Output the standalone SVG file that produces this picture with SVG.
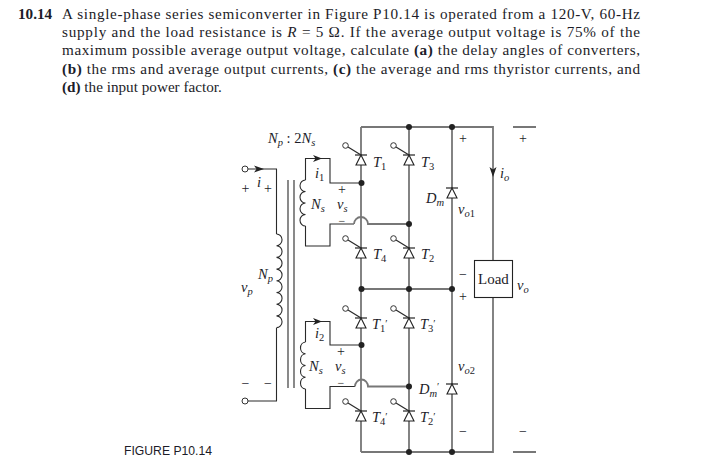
<svg xmlns="http://www.w3.org/2000/svg" width="712" height="475" viewBox="0 0 712 475">
<style>
text{font-family:"Liberation Serif","Times New Roman",serif;fill:#1c1c28}
.b{font-size:15.2px}
.bd{font-weight:bold}
.l{font-size:14.5px;font-style:italic}
.s{font-size:10.5px;font-style:italic}
.n{font-size:10.5px;font-style:normal}
.p{font-size:14px}
.m{font-size:12px}
.g{fill:none;stroke:#777;stroke-width:1.8}
.k{fill:none;stroke:#2a2a2a;stroke-width:1.1}
.d{fill:#222}
.o{fill:#fff;stroke:#333;stroke-width:1}
</style>
<defs>
<g id="thy"><path d="M-6 0H6" stroke="#222" stroke-width="1.2"/><path d="M0 0L-5 10H5Z" fill="#fff" stroke="#222" stroke-width="1.1"/><circle class="o" cx="-15.5" cy="-9.5" r="2.8"/><path class="k" d="M-13-8L0 0"/></g>
<g id="dio"><path d="M-6 0H6" stroke="#222" stroke-width="1.2"/><path d="M0 0L-5 10H5Z" fill="#fff" stroke="#222" stroke-width="1.1"/></g>
</defs>
<g id="problem">
<text class="b bd" x="18" y="19">10.14</text>
<text class="b" x="62" y="19" textLength="578" lengthAdjust="spacing">A single-phase series semiconverter in Figure P10.14 is operated from a 120-V, 60-Hz</text>
<text class="b" x="62" y="37" textLength="578" lengthAdjust="spacing">supply and the load resistance is <tspan font-style="italic">R</tspan> = 5 Ω. If the average output voltage is 75% of the</text>
<text class="b" x="62" y="55" textLength="578" lengthAdjust="spacing">maximum possible average output voltage, calculate <tspan class="bd">(a)</tspan> the delay angles of converters,</text>
<text class="b" x="62" y="74" textLength="578" lengthAdjust="spacing"><tspan class="bd">(b)</tspan> the rms and average output currents, <tspan class="bd">(c)</tspan> the average and rms thyristor currents, and</text>
<text class="b" x="62" y="92"><tspan class="bd">(d)</tspan> the input power factor.</text>
</g>
<text x="124" y="455" style="font-family:'Liberation Sans',Arial,sans-serif;font-size:12.2px">FIGURE P10.14</text>
<g id="connectors">
<path class="g" d="M361 127H493V261M493 297V452H361M361 127V452M409 127V452M452 127V452M361 289H452"/>
<path class="g" d="M513 127H536M513 452H536"/>
<path class="k" d="M248 169H276.5V234M276.5 328V401H248"/>
<path class="k" d="M276.5 234a5.5 5.8 0 0 1 0 11.7a5.5 5.8 0 0 1 0 11.7a5.5 5.8 0 0 1 0 11.7a5.5 5.8 0 0 1 0 11.7a5.5 5.8 0 0 1 0 11.7a5.5 5.8 0 0 1 0 11.7a5.5 5.8 0 0 1 0 11.7a5.5 5.8 0 0 1 0 11.7"/>
<path class="k" d="M288 180V388M294 180V388"/>
<path class="k" d="M305.5 180V158.5H330V183H361M305.5 226V246H330V224H354"/>
<path class="k" d="M305.5 180a5.5 5.75 0 0 0 0 11.5a5.5 5.75 0 0 0 0 11.5a5.5 5.75 0 0 0 0 11.5a5.5 5.75 0 0 0 0 11.5"/>
<path class="g" d="M354 224a7 7 0 0 1 14 0H409"/>
<path class="k" d="M305.5 342V321.5H330V345H361M305.5 389V408.5H330V386.5H355"/>
<path class="k" d="M305.5 342a5.5 5.9 0 0 0 0 11.75a5.5 5.9 0 0 0 0 11.75a5.5 5.9 0 0 0 0 11.75a5.5 5.9 0 0 0 0 11.75"/>
<path class="g" d="M355 386.5a6.5 7 0 0 1 13 0H409"/>
<path class="d" d="M264 169L254 165.5L256.5 169L254 172.5ZM322 158.5L313 155L315.5 158.5L313 162ZM322 321.5L313 318L315.5 321.5L313 325ZM493 177L489.5 167L493 169.5L496.5 167Z"/>
<circle class="d" cx="361.5" cy="183" r="3"/><circle class="d" cx="361.5" cy="289" r="3"/><circle class="d" cx="361.5" cy="345" r="3"/>
<circle class="d" cx="409" cy="127" r="3"/><circle class="d" cx="452" cy="127" r="3"/><circle class="d" cx="409" cy="224" r="3"/><circle class="d" cx="409" cy="289" r="3"/><circle class="d" cx="452" cy="289" r="3"/><circle class="d" cx="409" cy="386.5" r="3"/><circle class="d" cx="409" cy="452" r="3"/><circle class="d" cx="452" cy="452" r="3"/>
<circle class="o" cx="245" cy="169" r="3"/><circle class="o" cx="245" cy="401" r="3"/>
</g>
<g id="T1"><use href="#thy" x="361" y="155"/><text class="l" x="373" y="167">T<tspan class="n" dy="3">1</tspan></text></g>
<g id="T3"><use href="#thy" x="409" y="155"/><text class="l" x="421" y="167">T<tspan class="n" dy="3">3</tspan></text></g>
<g id="T4"><use href="#thy" x="361" y="248"/><text class="l" x="373" y="259">T<tspan class="n" dy="3">4</tspan></text></g>
<g id="T2"><use href="#thy" x="409" y="248"/><text class="l" x="421" y="259">T<tspan class="n" dy="3">2</tspan></text></g>
<g id="T1p"><use href="#thy" x="361" y="318"/><text class="l" x="372" y="329">T<tspan class="n" dy="3">1</tspan><tspan class="n" dy="-5">′</tspan></text></g>
<g id="T3p"><use href="#thy" x="409" y="318"/><text class="l" x="420" y="329">T<tspan class="n" dy="3">3</tspan><tspan class="n" dy="-5">′</tspan></text></g>
<g id="T4p"><use href="#thy" x="361" y="411"/><text class="l" x="372" y="422">T<tspan class="n" dy="3">4</tspan><tspan class="n" dy="-5">′</tspan></text></g>
<g id="T2p"><use href="#thy" x="409" y="411"/><text class="l" x="420" y="422">T<tspan class="n" dy="3">2</tspan><tspan class="n" dy="-5">′</tspan></text></g>
<g id="Dm"><use href="#dio" x="452" y="188"/><text class="l" x="426" y="203">D<tspan class="s" dy="3">m</tspan></text></g>
<g id="DmP"><use href="#dio" x="452" y="384"/><text class="l" x="419" y="394">D<tspan class="s" dy="3">m</tspan><tspan class="n" dy="-7">′</tspan></text></g>
<g id="Load"><rect x="474.5" y="260.5" width="38" height="37" fill="#fff" stroke="#222" stroke-width="1.1"/><text x="478" y="284" font-size="15">Load</text></g>
<g id="labels">
<text class="l" x="268" y="143">N<tspan class="s" dy="3">p</tspan><tspan dy="-3" font-style="normal"> : 2</tspan>N<tspan class="s" dy="3">s</tspan></text>
<text class="p" x="241.5" y="193">+</text><text class="l" x="257" y="187">i</text><text class="p" x="264" y="193">+</text>
<text class="l" x="315" y="178">i<tspan class="n" dy="3">1</tspan></text>
<text class="p" x="338" y="194">+</text>
<text class="l" x="311" y="209">N<tspan class="s" dy="3">s</tspan></text>
<text class="l" x="337" y="209">v<tspan class="s" dy="3">s</tspan></text>
<text class="m" x="338.5" y="225">−</text>
<text class="l" x="258" y="279">N<tspan class="s" dy="3">p</tspan></text>
<text class="l" x="241" y="292">v<tspan class="s" dy="3">p</tspan></text>
<text class="p" x="241.5" y="388">−</text><text class="p" x="264" y="388">−</text>
<text class="l" x="315" y="338">i<tspan class="n" dy="3">2</tspan></text>
<text class="p" x="337" y="356">+</text>
<text class="l" x="309" y="371">N<tspan class="s" dy="3">s</tspan></text>
<text class="l" x="335" y="371">v<tspan class="s" dy="3">s</tspan></text>
<text class="m" x="337.5" y="387">−</text>
<text class="p" x="459" y="143">+</text><text class="p" x="519" y="143">+</text>
<text class="l" x="500" y="178">i<tspan class="s" dy="3">o</tspan></text>
<text class="l" x="458" y="214">v<tspan class="s" dy="3">o</tspan><tspan class="n">1</tspan></text>
<text class="p" x="459" y="279">−</text>
<text class="p" x="459" y="301">+</text>
<text class="l" x="517" y="290">v<tspan class="s" dy="3">o</tspan></text>
<text class="l" x="458" y="371">v<tspan class="s" dy="3">o</tspan><tspan class="n">2</tspan></text>
<text class="p" x="459" y="436">−</text><text class="p" x="519" y="436">−</text>
</g>
</svg>
